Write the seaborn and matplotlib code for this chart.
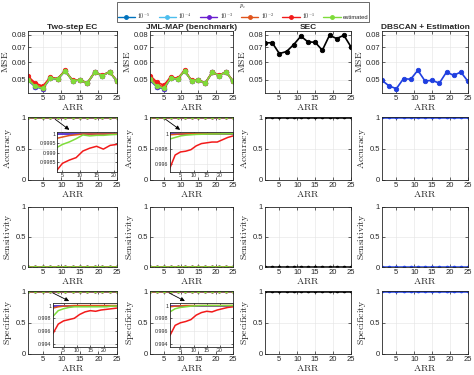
import matplotlib
matplotlib.use("Agg")
import matplotlib.pyplot as plt
import seaborn as sns
from matplotlib.lines import Line2D
from matplotlib.ticker import FixedLocator, FixedFormatter, NullLocator

# ---------------- data ----------------
arr = [1, 3, 5, 7, 9, 11, 13, 15, 17, 19, 21, 23, 25]
pe_labels = ["$10^{-5}$", "$10^{-4}$", "$10^{-3}$", "$10^{-2}$", "$10^{-1}$", "estimated"]
pe_colors = ["#0072BD", "#4DBEEE", "#6A1FD0", "#E0541C", "#F21A1A", "#7EDC3A"]
methods = ["Two-step EC", "JML-MAP (benchmark)", "SEC", "DBSCAN + Estimation"]

# MSE
mse_ec_low = [0.0497, 0.0465, 0.0455, 0.0508, 0.0503, 0.0548, 0.0495, 0.0498, 0.0482, 0.0540, 0.0522, 0.0542, 0.0492]
mse_ec_1e2 = [0.0508, 0.0473, 0.0460, 0.0510, 0.0504, 0.0549, 0.0495, 0.0498, 0.0482, 0.0540, 0.0522, 0.0542, 0.0492]
mse_ec_1e1 = [0.0517, 0.0482, 0.0467, 0.0513, 0.0505, 0.0550, 0.0496, 0.0499, 0.0483, 0.0541, 0.0523, 0.0543, 0.0493]
mse_ec_est = [0.0500, 0.0466, 0.0456, 0.0508, 0.0503, 0.0548, 0.0495, 0.0498, 0.0482, 0.0540, 0.0522, 0.0542, 0.0492]
mse_jml_low = [0.0497, 0.0465, 0.0455, 0.0508, 0.0503, 0.0548, 0.0495, 0.0498, 0.0482, 0.0540, 0.0522, 0.0542, 0.0492]
mse_jml_1e2 = [0.0510, 0.0476, 0.0463, 0.0511, 0.0504, 0.0549, 0.0495, 0.0498, 0.0482, 0.0540, 0.0522, 0.0542, 0.0492]
mse_jml_1e1 = [0.0522, 0.0487, 0.0472, 0.0515, 0.0506, 0.0551, 0.0496, 0.0499, 0.0483, 0.0541, 0.0523, 0.0543, 0.0493]
mse_jml_est = [0.0501, 0.0467, 0.0457, 0.0508, 0.0503, 0.0548, 0.0495, 0.0498, 0.0482, 0.0540, 0.0522, 0.0542, 0.0492]
mse_sec = [0.0733, 0.0735, 0.0656, 0.0670, 0.0720, 0.0786, 0.0741, 0.0738, 0.0679, 0.0794, 0.0767, 0.0794, 0.0703]
mse_dbscan = [0.0496, 0.0468, 0.0455, 0.0505, 0.0502, 0.0551, 0.0493, 0.0496, 0.0482, 0.0541, 0.0523, 0.0541, 0.0491]

# Accuracy
ones = [1, 1, 1, 1, 1, 1, 1, 1, 1, 1, 1, 1, 1]
zeros = [0, 0, 0, 0, 0, 0, 0, 0, 0, 0, 0, 0, 0]
acc_ec_1e2 = [0.99972, 0.99976, 0.99984, 0.99992, 0.99996, 1, 1, 1, 1, 1, 1, 1, 1]
acc_ec_1e1 = [0.99760, 0.99800, 0.99845, 0.99862, 0.99875, 0.99910, 0.99925, 0.99935, 0.99920, 0.99940, 0.99945, 0.99950, 0.99955]
acc_ec_est = [0.99905, 0.99925, 0.99945, 0.99958, 0.99975, 0.99995, 0.99990, 0.99993, 0.99993, 0.99996, 0.99998, 0.99998, 0.99999]
acc_jml_1e2 = [0.99985, 0.99990, 0.99995, 0.99998, 1, 1, 1, 1, 1, 1, 1, 1, 1]
acc_jml_1e1 = [0.99550, 0.99720, 0.99760, 0.99770, 0.99790, 0.99840, 0.99870, 0.99880, 0.99890, 0.99890, 0.99920, 0.99950, 0.99970]
acc_jml_est = [0.99930, 0.99950, 0.99970, 0.99980, 0.99985, 0.99990, 0.99992, 0.99994, 0.99995, 0.99996, 0.99997, 0.99998, 0.99999]

# Specificity
spe_ec_1e2 = [0.99960, 0.99980, 0.99990, 0.99995, 1, 1, 1, 1, 1, 1, 1, 1, 1]
spe_ec_1e1 = [0.99560, 0.99710, 0.99760, 0.99780, 0.99800, 0.99860, 0.99900, 0.99920, 0.99910, 0.99930, 0.99940, 0.99950, 0.99960]
spe_ec_est = [0.99830, 0.99920, 0.99950, 0.99970, 0.99980, 0.99980, 0.99980, 0.99980, 0.99980, 0.99980, 0.99980, 0.99990, 0.99990]
spe_jml_1e2 = [0.99980, 0.99990, 0.99995, 1, 1, 1, 1, 1, 1, 1, 1, 1, 1]
spe_jml_1e1 = [0.99530, 0.99690, 0.99730, 0.99750, 0.99780, 0.99850, 0.99890, 0.99910, 0.99900, 0.99930, 0.99950, 0.99970, 0.99980]
spe_jml_est = [0.99900, 0.99950, 0.99970, 0.99980, 0.99990, 0.99995, 1, 1, 1, 1, 1, 1, 1]

# ---------------- style ----------------
sns.set_theme(style="whitegrid")
plt.rcParams["font.family"] = ["Liberation Sans", "DejaVu Sans"]
plt.rcParams["mathtext.fontset"] = "cm"
plt.rcParams["xtick.direction"] = "in"
plt.rcParams["ytick.direction"] = "in"

W, H = 474, 375
fig = plt.figure(figsize=(W / 100, H / 100), dpi=100)

col_left = [28, 150, 265, 382]
col_w = [89, 83, 86, 86]
row_top = [31, 117, 207, 291]
row_h = [62, 63, 60, 63]
ylabels = ["MSE", "Accuracy", "Sensitivity", "Specificity"]


def style(ax, fs=5.5, tl=2):
    ax.set_facecolor("white")
    for s in ax.spines.values():
        s.set_visible(True)
        s.set_color("#262626")
        s.set_linewidth(0.6)
    ax.grid(True, color="#e4e4e4", lw=0.4)
    ax.tick_params(labelsize=fs, length=tl, width=0.5, pad=1.5, colors="#262626",
                   top=True, right=True, bottom=True, left=True,
                   labeltop=False, labelright=False)


def draw(ax, y, color, lw=1.2, ms=3.2, marker="o"):
    sns.lineplot(x=arr, y=y, ax=ax, color=color, lw=lw, marker=marker, markersize=ms,
                 markeredgecolor=color, markeredgewidth=0.6, legend=False, errorbar=None)


mse_sets = [
    [mse_ec_low, mse_ec_low, mse_ec_low, mse_ec_1e2, mse_ec_1e1, mse_ec_est],
    [mse_jml_low, mse_jml_low, mse_jml_low, mse_jml_1e2, mse_jml_1e1, mse_jml_est],
]
acc_sets = [
    [ones, ones, ones, acc_ec_1e2, acc_ec_1e1, acc_ec_est],
    [ones, ones, ones, acc_jml_1e2, acc_jml_1e1, acc_jml_est],
]
spe_sets = [
    [ones, ones, ones, spe_ec_1e2, spe_ec_1e1, spe_ec_est],
    [ones, ones, ones, spe_jml_1e2, spe_jml_1e1, spe_jml_est],
]
sen_sets = [[zeros] * 6, [zeros] * 6]

axes = {}
for r in range(4):
    for c in range(4):
        ax = fig.add_axes([col_left[c] / W, 1 - (row_top[r] + row_h[r]) / H, col_w[c] / W, row_h[r] / H])
        style(ax)
        axes[(r, c)] = ax
        ax.set_xlim(1, 25)
        ax.xaxis.set_major_locator(FixedLocator([5, 10, 15, 20, 25]))
        ax.set_ylabel(r"$\mathrm{%s}$" % ylabels[r], fontsize=7, labelpad=1)
        ax.set_xlabel(r"$\mathrm{ARR}$", fontsize=7, labelpad=0)
        if r == 0:
            ax.set_title(methods[c], fontsize=6, fontweight="bold", pad=1.5)
            ax.set_yscale("log")
            ax.set_ylim(0.0435, 0.083)
            ax.yaxis.set_major_locator(FixedLocator([0.05, 0.06, 0.07, 0.08]))
            ax.yaxis.set_major_formatter(FixedFormatter(["0.05", "0.06", "0.07", "0.08"]))
            ax.yaxis.set_minor_locator(NullLocator())
        else:
            ax.set_ylim(0, 1)
            ax.yaxis.set_major_locator(FixedLocator([0, 0.5, 1]))
            ax.yaxis.set_major_formatter(FixedFormatter(["0", "0.5", "1"]))

# method columns with p_e sweep
for c in range(2):
    for sets, r in [(mse_sets, 0), (acc_sets, 1), (sen_sets, 2), (spe_sets, 3)]:
        for y, col in zip(sets[c], pe_colors):
            if r == 0:
                draw(axes[(r, c)], y, col)
            else:
                draw(axes[(r, c)], y, col, lw=1.8, ms=2.0)

# SEC and DBSCAN
for c, col in [(2, "black"), (3, "#1F3FE0")]:
    draw(axes[(0, c)], mse_sec if c == 2 else mse_dbscan, col)
    draw(axes[(1, c)], ones, col, lw=1.8, ms=2.0)
    draw(axes[(2, c)], zeros, col, lw=1.8, ms=2.0)
    draw(axes[(3, c)], ones, col, lw=1.8, ms=2.0)

# insets
inset_cfg = [
    (1, 0, [0.33, 0.13, 0.67, 0.63], (0.998, 1.0001), [0.9985, 0.999, 0.9995, 1],
     ["0.9985", "0.999", "0.9995", "1"], (3.5, 21), acc_sets[0], (0.28, 0.99), (0.49, 0.77)),
    (1, 1, [0.24, 0.13, 0.76, 0.63], (0.995, 1.0002), [0.996, 0.998, 1],
     ["0.996", "0.998", "1"], (1, 25), acc_sets[1], (0.16, 0.99), (0.39, 0.77)),
    (3, 0, [0.28, 0.11, 0.72, 0.70], (0.9935, 1.0004), [0.994, 0.996, 0.998, 1],
     ["0.994", "0.996", "0.998", "1"], (1, 25), spe_sets[0], (0.25, 0.99), (0.49, 0.82)),
    (3, 1, [0.24, 0.11, 0.76, 0.70], (0.9935, 1.0004), [0.994, 0.996, 0.998, 1],
     ["0.994", "0.996", "0.998", "1"], (1, 25), spe_sets[1], (0.20, 0.99), (0.45, 0.82)),
]
for r, c, rect, ylim, yt, ytl, xlim, sets, tail, head in inset_cfg:
    ax = axes[(r, c)]
    ins = ax.inset_axes(rect)
    style(ins, fs=3.8, tl=1.5)
    for y, col in zip(sets, pe_colors):
        sns.lineplot(x=arr, y=y, ax=ins, color=col, lw=1.1, legend=False, errorbar=None)
    ins.set_xlim(*xlim)
    ins.set_ylim(*ylim)
    ins.xaxis.set_major_locator(FixedLocator([5, 10, 15, 20]))
    ins.yaxis.set_major_locator(FixedLocator(yt))
    ins.yaxis.set_major_formatter(FixedFormatter(ytl))
    ins.tick_params(pad=1)
    ins.set_xlabel("")
    ins.set_ylabel("")
    ax.annotate("", xy=head, xytext=tail, xycoords="axes fraction",
                arrowprops=dict(arrowstyle="-|>", color="black", lw=0.6, mutation_scale=6))

# legend
handles = [Line2D([0], [0], color=col, lw=1.0, marker="o", markersize=2.5) for col in pe_colors]
leg = fig.legend(handles, pe_labels, title="$p_e$", ncol=6, loc="upper center",
                 bbox_to_anchor=(243 / W, 1 - 2 / H), fontsize=4.2, title_fontsize=4.5,
                 handlelength=3.0, columnspacing=1.4, handletextpad=0.4,
                 frameon=True, fancybox=False, edgecolor="#262626", borderpad=0.15,
                 labelspacing=0.0, handleheight=0.3, borderaxespad=0)
leg.get_frame().set_linewidth(0.6)

fig.savefig("out.png", dpi=100)
plt.close(fig)
